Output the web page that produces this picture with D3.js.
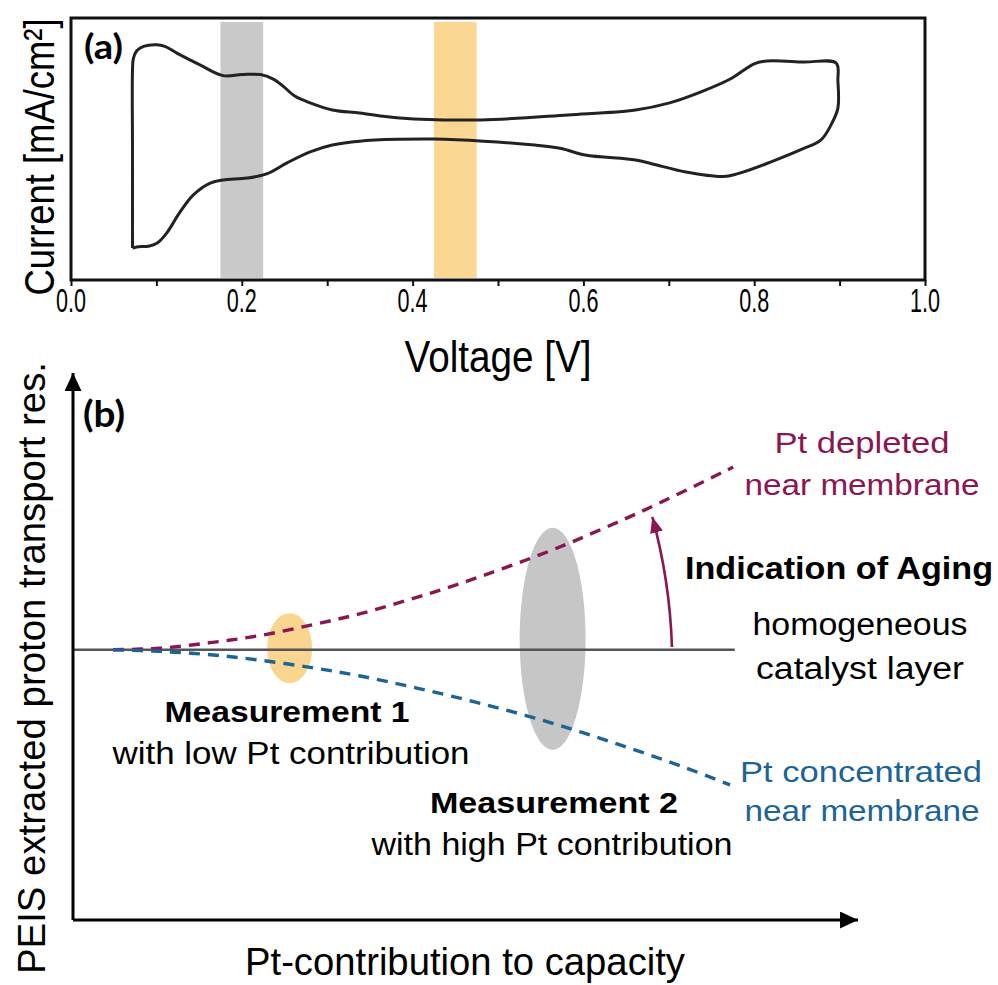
<!DOCTYPE html>
<html>
<head>
<meta charset="utf-8">
<script src="https://cdn.jsdelivr.net/npm/d3@7"></script>
<style>
  body { margin: 0; background: #fff; }
  svg { display: block; font-family: 'Liberation Sans', Arial, sans-serif; }
</style>
</head>
<body>
<div id="chart"></div>
<script>
// ---- panel (a): cyclic voltammogram (current in arbitrary units) ----
var voltageTicks = [0, 0.1, 0.2, 0.3, 0.4, 0.5, 0.6, 0.7, 0.8, 0.9, 1.0]
var voltageLabels = [0, 0.2, 0.4, 0.6, 0.8, 1.0]
var grayBand = [0.175, 0.225]
var orangeBand = [0.425, 0.475]

// [voltage, current] - anodic sweep then cathodic sweep
var cvLoop = [
  [0.072, 12.2], [0.072, 50], [0.072, 80], [0.073, 84.5], [0.077, 87.5], [0.085, 89.2],
  [0.100, 89.8], [0.110, 89.2], [0.124, 86.6], [0.151, 82.1], [0.178, 78.0], [0.200, 78.4],
  [0.222, 78.4], [0.238, 76.5], [0.250, 73.5], [0.262, 70.2], [0.280, 67.6], [0.306, 64.9],
  [0.338, 63.7], [0.385, 61.8], [0.480, 61.1], [0.582, 63.0], [0.661, 64.9], [0.701, 67.6],
  [0.740, 72.1], [0.772, 76.7], [0.800, 82.5], [0.815, 83.6], [0.858, 83.2], [0.896, 82.8],
  [0.898, 76], [0.898, 65.6], [0.890, 59.2], [0.878, 53.4], [0.858, 50.2],
  [0.819, 45.0], [0.780, 40.5], [0.764, 39.5], [0.720, 41.2], [0.681, 44.3], [0.661, 45.8],
  [0.602, 47.7], [0.574, 50.2], [0.543, 51.5], [0.483, 53.0], [0.425, 53.8], [0.385, 53.7],
  [0.338, 53.0], [0.306, 51.5], [0.280, 48.9], [0.253, 44.7], [0.229, 40.5], [0.206, 38.9],
  [0.178, 38.2], [0.163, 37.0], [0.143, 32.4], [0.127, 25.6], [0.112, 17.9], [0.101, 14.1],
  [0.092, 13.0], [0.077, 12.6], [0.072, 12.2]
]

// ---- panel (b): schematic (both axes 0..100, arbitrary) ----
var homogeneousLine = [[0, 49.4], [84.3, 49.4]]
var depletedCurve = [
  [5.1, 49.4], [11.1, 49.7], [17.5, 50.7], [23.8, 52.0], [30.6, 54.0], [36.6, 56.0],
  [42.9, 58.6], [49.3, 61.5], [60.8, 67.5], [67.1, 71.3], [73.5, 75.4], [84.1, 82.8]
]
var concentratedCurve = [
  [5.1, 49.4], [11.1, 49.1], [17.5, 48.5], [23.8, 47.5], [30.6, 46.1], [36.6, 44.6],
  [43.8, 42.4], [52.2, 39.5], [60.8, 36.1], [69.3, 32.2], [77.7, 28.0], [83.7, 24.7]
]
// [x, y, rx, ry] in data units
var measurement1 = [27.6, 49.7, 2.87, 6.4]
var measurement2 = [61.1, 51.4, 4.2, 20.3]
var agingArrow = [[76.3, 49.9], [73.8, 73.7]]

var purple = '#8a1652', blue = '#1d6496'

var svg = d3.select('#chart').append('svg').attr('width', 998).attr('height', 985)

var defs = svg.append('defs')
function arrowMarker(id, color, w, l) {
  defs.append('marker').attr('id', id)
    .attr('viewBox', '0 0 ' + l + ' ' + w)
    .attr('refX', l).attr('refY', w / 2)
    .attr('markerWidth', l).attr('markerHeight', w)
    .attr('markerUnits', 'userSpaceOnUse')
    .attr('orient', 'auto')
    .append('path').attr('d', 'M0,0L' + l + ',' + (w / 2) + 'L0,' + w + 'Z').attr('fill', color)
}
arrowMarker('axisHead', '#000', 17, 18)
arrowMarker('agingHead', purple, 13, 16)

// text with fixed width to match the picture's stretched lettering
function label(g, txt, x, y, o) {
  var t = g.append('text').attr('x', x).attr('y', y)
    .attr('text-anchor', o.anchor || 'middle')
    .attr('font-size', o.size).attr('font-weight', o.weight || 'normal')
    .attr('fill', o.fill || '#000')
    .text(txt)
  if (o.family) t.attr('font-family', o.family)
  if (o.len) t.attr('textLength', o.len).attr('lengthAdjust', 'spacingAndGlyphs')
  if (o.rotate) t.attr('transform', 'rotate(' + o.rotate + ',' + x + ',' + y + ')')
  return t
}

// ================= panel (a) =================
var gA = svg.append('g')
var xA = d3.scaleLinear().domain([0, 1]).range([71, 925])
var yA = d3.scaleLinear().domain([0, 100]).range([280, 18])

;[[grayBand, '#c9c9c9'], [orangeBand, '#fad894']].forEach(function(b) {
  gA.append('rect')
    .attr('x', xA(b[0][0])).attr('width', xA(b[0][1]) - xA(b[0][0]))
    .attr('y', yA(98.5)).attr('height', yA(0.8) - yA(98.5))
    .attr('fill', b[1])
})

var cvLine = d3.line()
  .x(function(d) { return xA(d[0]) })
  .y(function(d) { return yA(d[1]) })
  .curve(d3.curveCatmullRom.alpha(0.5))
gA.append('path').datum(cvLoop).attr('d', cvLine)
  .attr('fill', 'none').attr('stroke', '#222').attr('stroke-width', 3)

gA.append('rect')
  .attr('x', xA(0)).attr('y', yA(100))
  .attr('width', xA(1) - xA(0)).attr('height', yA(0) - yA(100))
  .attr('fill', 'none').attr('stroke', '#111').attr('stroke-width', 3)

var axisA = d3.axisBottom(xA).tickValues(voltageTicks).tickSize(6).tickFormat('')
var gAx = gA.append('g').attr('transform', 'translate(0,' + yA(0) + ')').call(axisA)
gAx.select('.domain').remove()
gAx.selectAll('.tick line').attr('stroke', '#111').attr('stroke-width', 2)

voltageLabels.forEach(function(v) {
  label(gA, d3.format('.1f')(v), xA(v), 312, { size: 34, len: 30 })
})
label(gA, 'Voltage [V]', 498, 372, { size: 45, len: 187 })
label(gA, 'Current [mA/cm\u00b2]', 54, 157, { size: 43, len: 277, rotate: -90 })

label(gA, '(a)', 84, 59, { size: 35, weight: 'bold', anchor: 'start', len: 39, family: 'Lato, sans-serif' })

// ================= panel (b) =================
var gB = svg.append('g')
var xB = d3.scaleLinear().domain([0, 100]).range([73, 858])
var yB = d3.scaleLinear().domain([0, 100]).range([920, 373])

var ptLine = d3.line()
  .x(function(d) { return xB(d[0]) })
  .y(function(d) { return yB(d[1]) })

;[[measurement1, '#f9d590'], [measurement2, '#c6c6c6']].forEach(function(m) {
  var e = m[0]
  gB.append('ellipse')
    .attr('cx', xB(e[0])).attr('cy', yB(e[1]))
    .attr('rx', xB(e[2]) - xB(0)).attr('ry', yB(0) - yB(e[3]))
    .attr('fill', m[1])
})

gB.append('path').datum(homogeneousLine).attr('d', ptLine)
  .attr('fill', 'none').attr('stroke', '#555').attr('stroke-width', 2.6)

var smooth = d3.line()
  .x(function(d) { return xB(d[0]) })
  .y(function(d) { return yB(d[1]) })
  .curve(d3.curveCatmullRom.alpha(0.5))
;[[depletedCurve, purple], [concentratedCurve, blue]].forEach(function(c) {
  gB.append('path').datum(c[0]).attr('d', smooth)
    .attr('fill', 'none').attr('stroke', c[1]).attr('stroke-width', 3.4)
    .attr('stroke-dasharray', '11,8')
})

// aging arrow: arc around the common origin of the two curves
var origin = [xB(depletedCurve[0][0]), yB(depletedCurve[0][1])]
var a0 = [xB(agingArrow[0][0]), yB(agingArrow[0][1])]
var a1 = [xB(agingArrow[1][0]), yB(agingArrow[1][1])]
var r = Math.hypot(a0[0] - origin[0], a0[1] - origin[1])
gB.append('path')
  .attr('d', 'M' + a0[0] + ',' + a0[1] + 'A' + r + ',' + r + ' 0 0 0 ' + a1[0] + ',' + a1[1])
  .attr('fill', 'none').attr('stroke', purple).attr('stroke-width', 2.6)
  .attr('marker-end', 'url(#agingHead)')

// axes with arrow heads
gB.append('path').datum([[0, 0], [0, 100]]).attr('d', ptLine)
  .attr('stroke', '#000').attr('stroke-width', 3).attr('marker-end', 'url(#axisHead)')
gB.append('path').datum([[0, 0], [100, 0]]).attr('d', ptLine)
  .attr('stroke', '#000').attr('stroke-width', 3).attr('marker-end', 'url(#axisHead)')

label(gB, '(b)', 83, 427, { size: 36, weight: 'bold', anchor: 'start', len: 42, family: 'Lato, sans-serif' })
label(gB, 'PEIS extracted proton transport res.', 45, 668, { size: 39, len: 612, rotate: -90 })
label(gB, 'Pt-contribution to capacity', 465, 975, { size: 38, len: 440 })

label(gB, 'Pt depleted', 862, 453, { size: 30, len: 175, fill: purple })
label(gB, 'near membrane', 862, 495, { size: 30, len: 235, fill: purple })
label(gB, 'Indication of Aging', 839, 579, { size: 32, weight: 'bold', len: 308 })
label(gB, 'homogeneous', 860, 635, { size: 31, len: 215 })
label(gB, 'catalyst layer', 860, 679, { size: 31, len: 208 })
label(gB, 'Measurement 1', 287, 722, { size: 30, weight: 'bold', len: 245 })
label(gB, 'with low Pt contribution', 291, 764, { size: 31, len: 357 })
label(gB, 'Measurement 2', 554, 813, { size: 30, weight: 'bold', len: 248 })
label(gB, 'with high Pt contribution', 552, 855, { size: 31, len: 361 })
label(gB, 'Pt concentrated', 861, 782, { size: 30, len: 242, fill: blue })
label(gB, 'near membrane', 862, 821, { size: 30, len: 235, fill: blue })
</script>
</body>
</html>
